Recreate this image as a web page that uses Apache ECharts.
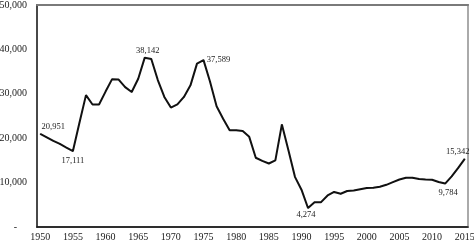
<!DOCTYPE html>
<html>
<head>
<meta charset="utf-8">
<script src="https://cdn.jsdelivr.net/npm/echarts@6/dist/echarts.min.js"></script>
<style>
html,body{margin:0;padding:0;background:#fff;}
#chart{width:474px;height:245px;}
</style>
</head>
<body>
<div id="chart"></div>
<script>
const years = [];
for (let y = 1950; y <= 2015; y++) years.push(String(y));

const values = [
  20951, 20200, 19400, 18700, 17900, 17111, 23500, 29700, 27600, 27600,
  30500, 33300, 33200, 31500, 30400, 33400, 38142, 37850, 33100, 29300,
  26900, 27600, 29300, 31900, 36800, 37589, 32700, 27200, 24400, 21800,
  21800, 21600, 20300, 15600, 14900, 14300, 15000, 23100, 17300, 11300,
  8400, 4274, 5600, 5600, 7100, 7900, 7500, 8100, 8200, 8500,
  8800, 8850, 9070, 9500, 10100, 10700, 11100, 11100, 10800, 10700,
  10650, 10150, 9784, 11400, 13300, 15342
];

const yTicks = [0, 10000, 20000, 30000, 40000, 50000];

// annotated points: year and label offset
const annotations = [
  { year: '1950', offset: [13, -7] },
  { year: '1955', offset: [0, 10] },
  { year: '1966', offset: [3, -7] },
  { year: '1975', offset: [15, 0] },
  { year: '1991', offset: [-2, 7] },
  { year: '2012', offset: [3, 9] },
  { year: '2015', offset: [-7, -7] }
];

const fmt = v => v.toLocaleString('en-US');
const seriesData = values.map((v, i) => {
  const a = annotations.find(x => x.year === years[i]);
  if (!a) return v;
  return {
    value: v,
    label: {
      show: true, position: 'inside', offset: a.offset,
      formatter: fmt(v),
      fontFamily: 'Liberation Serif', fontSize: 8.5, color: '#222'
    }
  };
});

const chart = echarts.init(document.getElementById('chart'));
chart.setOption({
  animation: false,
  grid: {
    left: 37, right: 6, top: 5, bottom: 18,
    containLabel: false, outerBoundsMode: 'none',
    show: true, borderColor: '#888888', borderWidth: 2
  },
  xAxis: [{
    type: 'category', data: years, boundaryGap: true,
    axisLine: { onZero: false, lineStyle: { color: '#111', width: 1.5 } },
    axisTick: { interval: 0, alignWithLabel: true, length: 3, lineStyle: { color: '#111' } },
    axisLabel: { interval: 4, margin: 5, fontFamily: 'Liberation Serif', fontSize: 10, color: '#222' }
  }, {
    type: 'category', data: years, position: 'top', boundaryGap: true,
    axisLine: { show: true, onZero: false, lineStyle: { color: '#7a7a7a', width: 2 } },
    axisTick: { show: false }, axisLabel: { show: false }, splitLine: { show: false }
  }],
  yAxis: [{
    type: 'value', min: 0, max: 50000, interval: 10000,
    splitLine: { show: false },
    axisLine: { show: true, onZero: false, lineStyle: { color: '#333', width: 1.5 } },
    axisTick: { show: false },
    axisLabel: {
      margin: 10, fontFamily: 'Liberation Serif', fontSize: 10, color: '#222',
      formatter: v => v === 0 ? '-    ' : fmt(v)
    }
  }, {
    type: 'value', min: 0, max: 50000, interval: 10000, position: 'right',
    axisLine: { show: true, onZero: false, lineStyle: { color: '#aaaaaa', width: 2 } },
    axisTick: { show: false }, axisLabel: { show: false }, splitLine: { show: false }
  }],
  series: [{
    type: 'line', data: seriesData,
    symbol: 'circle', symbolSize: 1, showSymbol: true,
    itemStyle: { color: '#111' },
    lineStyle: { color: '#111', width: 2 },
    label: { show: false }
  }, {
    type: 'line', data: values, xAxisIndex: 1, yAxisIndex: 1, silent: true,
    symbol: 'none', lineStyle: { opacity: 0 }, z: 0
  }]
});
</script>
</body>
</html>
